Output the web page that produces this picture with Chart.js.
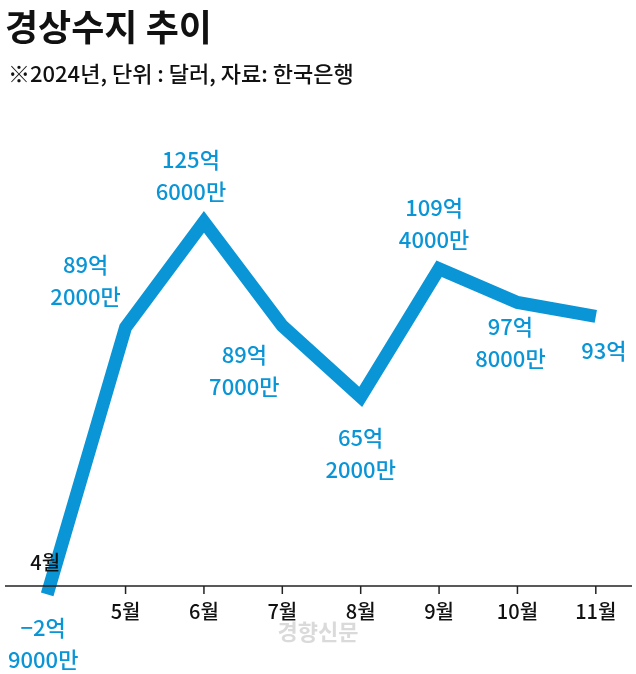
<!DOCTYPE html>
<html><head><meta charset="utf-8">
<script src="https://cdn.jsdelivr.net/npm/chart.js@4"></script>
<style>html,body{margin:0;padding:0;background:#fff}#c{display:block}</style>
</head><body>
<div style="width:636px;height:674px"><canvas id="c"></canvas></div>
<script>
const months = ['4월','5월','6월','7월','8월','9월','10월','11월'];
const values = [-2.9, 89.2, 125.6, 89.7, 65.2, 109.4, 97.8, 93.0];
const valueLabels = [['−2억','9000만'],['89억','2000만'],['125억','6000만'],['89억','7000만'],['65억','2000만'],['109억','4000만'],['97억','8000만'],['93억']];
// label offsets relative to point (dx, dy of first line center)
const labelOffsets = [[-4,33],[-40,-63],[-13,-62],[-38,29],[0,41],[-5,-61],[-7,24],[8,34]];
const blue = '#0a95d7';
const FONT = '"Noto Sans CJK KR", sans-serif';

const decor = {
  id: 'decor',
  afterDatasetsDraw(chart) {
    const ctx = chart.ctx, x = chart.scales.x, y = chart.scales.y;
    ctx.save();
    ctx.fillStyle = '#111';
    ctx.font = 'bold 36px ' + FONT;
    ctx.textAlign = 'left'; ctx.textBaseline = 'alphabetic';
    ctx.fillText('경상수지 추이', 5, 41);
    ctx.font = '500 22px ' + FONT;
    ctx.fillText('※2024년, 단위 : 달러, 자료: 한국은행', 8, 82);
    // axis
    const y0 = y.getPixelForValue(0);
    ctx.strokeStyle = '#222'; ctx.lineWidth = 1.5;
    ctx.beginPath(); ctx.moveTo(5, y0); ctx.lineTo(632, y0); ctx.stroke();
    ctx.font = '500 20px ' + FONT; ctx.textAlign = 'center'; ctx.textBaseline = 'middle';
    months.forEach((m, i) => {
      const px = x.getPixelForValue(i);
      if (i === 0) { ctx.fillText(m, px - 2, y0 - 24); return; }
      ctx.beginPath(); ctx.moveTo(px, y0); ctx.lineTo(px, y0 + 8); ctx.stroke();
      ctx.fillText(m, px, y0 + 25);
    });
    // value labels
    ctx.fillStyle = blue; ctx.font = '500 22px ' + FONT;
    values.forEach((v, i) => {
      const px = x.getPixelForValue(i), py = y.getPixelForValue(v);
      const [dx, dy] = labelOffsets[i];
      valueLabels[i].forEach((t, k) => ctx.fillText(t, px + dx, py + dy + k * 32));
    });
    ctx.fillStyle = 'rgba(150,150,150,0.35)'; ctx.font = 'bold 22px ' + FONT;
    ctx.fillText('경향신문', 318, 632);
    ctx.restore();
  }
};

new Chart(document.getElementById('c'), {
  type: 'line',
  data: { labels: months, datasets: [{ data: values, borderColor: blue, borderWidth: 13,
    pointRadius: 0, tension: 0, borderJoinStyle: 'miter', borderCapStyle: 'butt', fill: false }] },
  options: {
    responsive: true, maintainAspectRatio: false, animation: false,
    layout: { padding: { top: 151, bottom: 59, left: 8, right: 1 } },
    plugins: { legend: { display: false }, tooltip: { enabled: false } },
    scales: {
      x: { display: false, offset: true },
      y: { display: false, min: -10, max: 150 }
    }
  },
  plugins: [decor]
});
</script>
</body></html>
